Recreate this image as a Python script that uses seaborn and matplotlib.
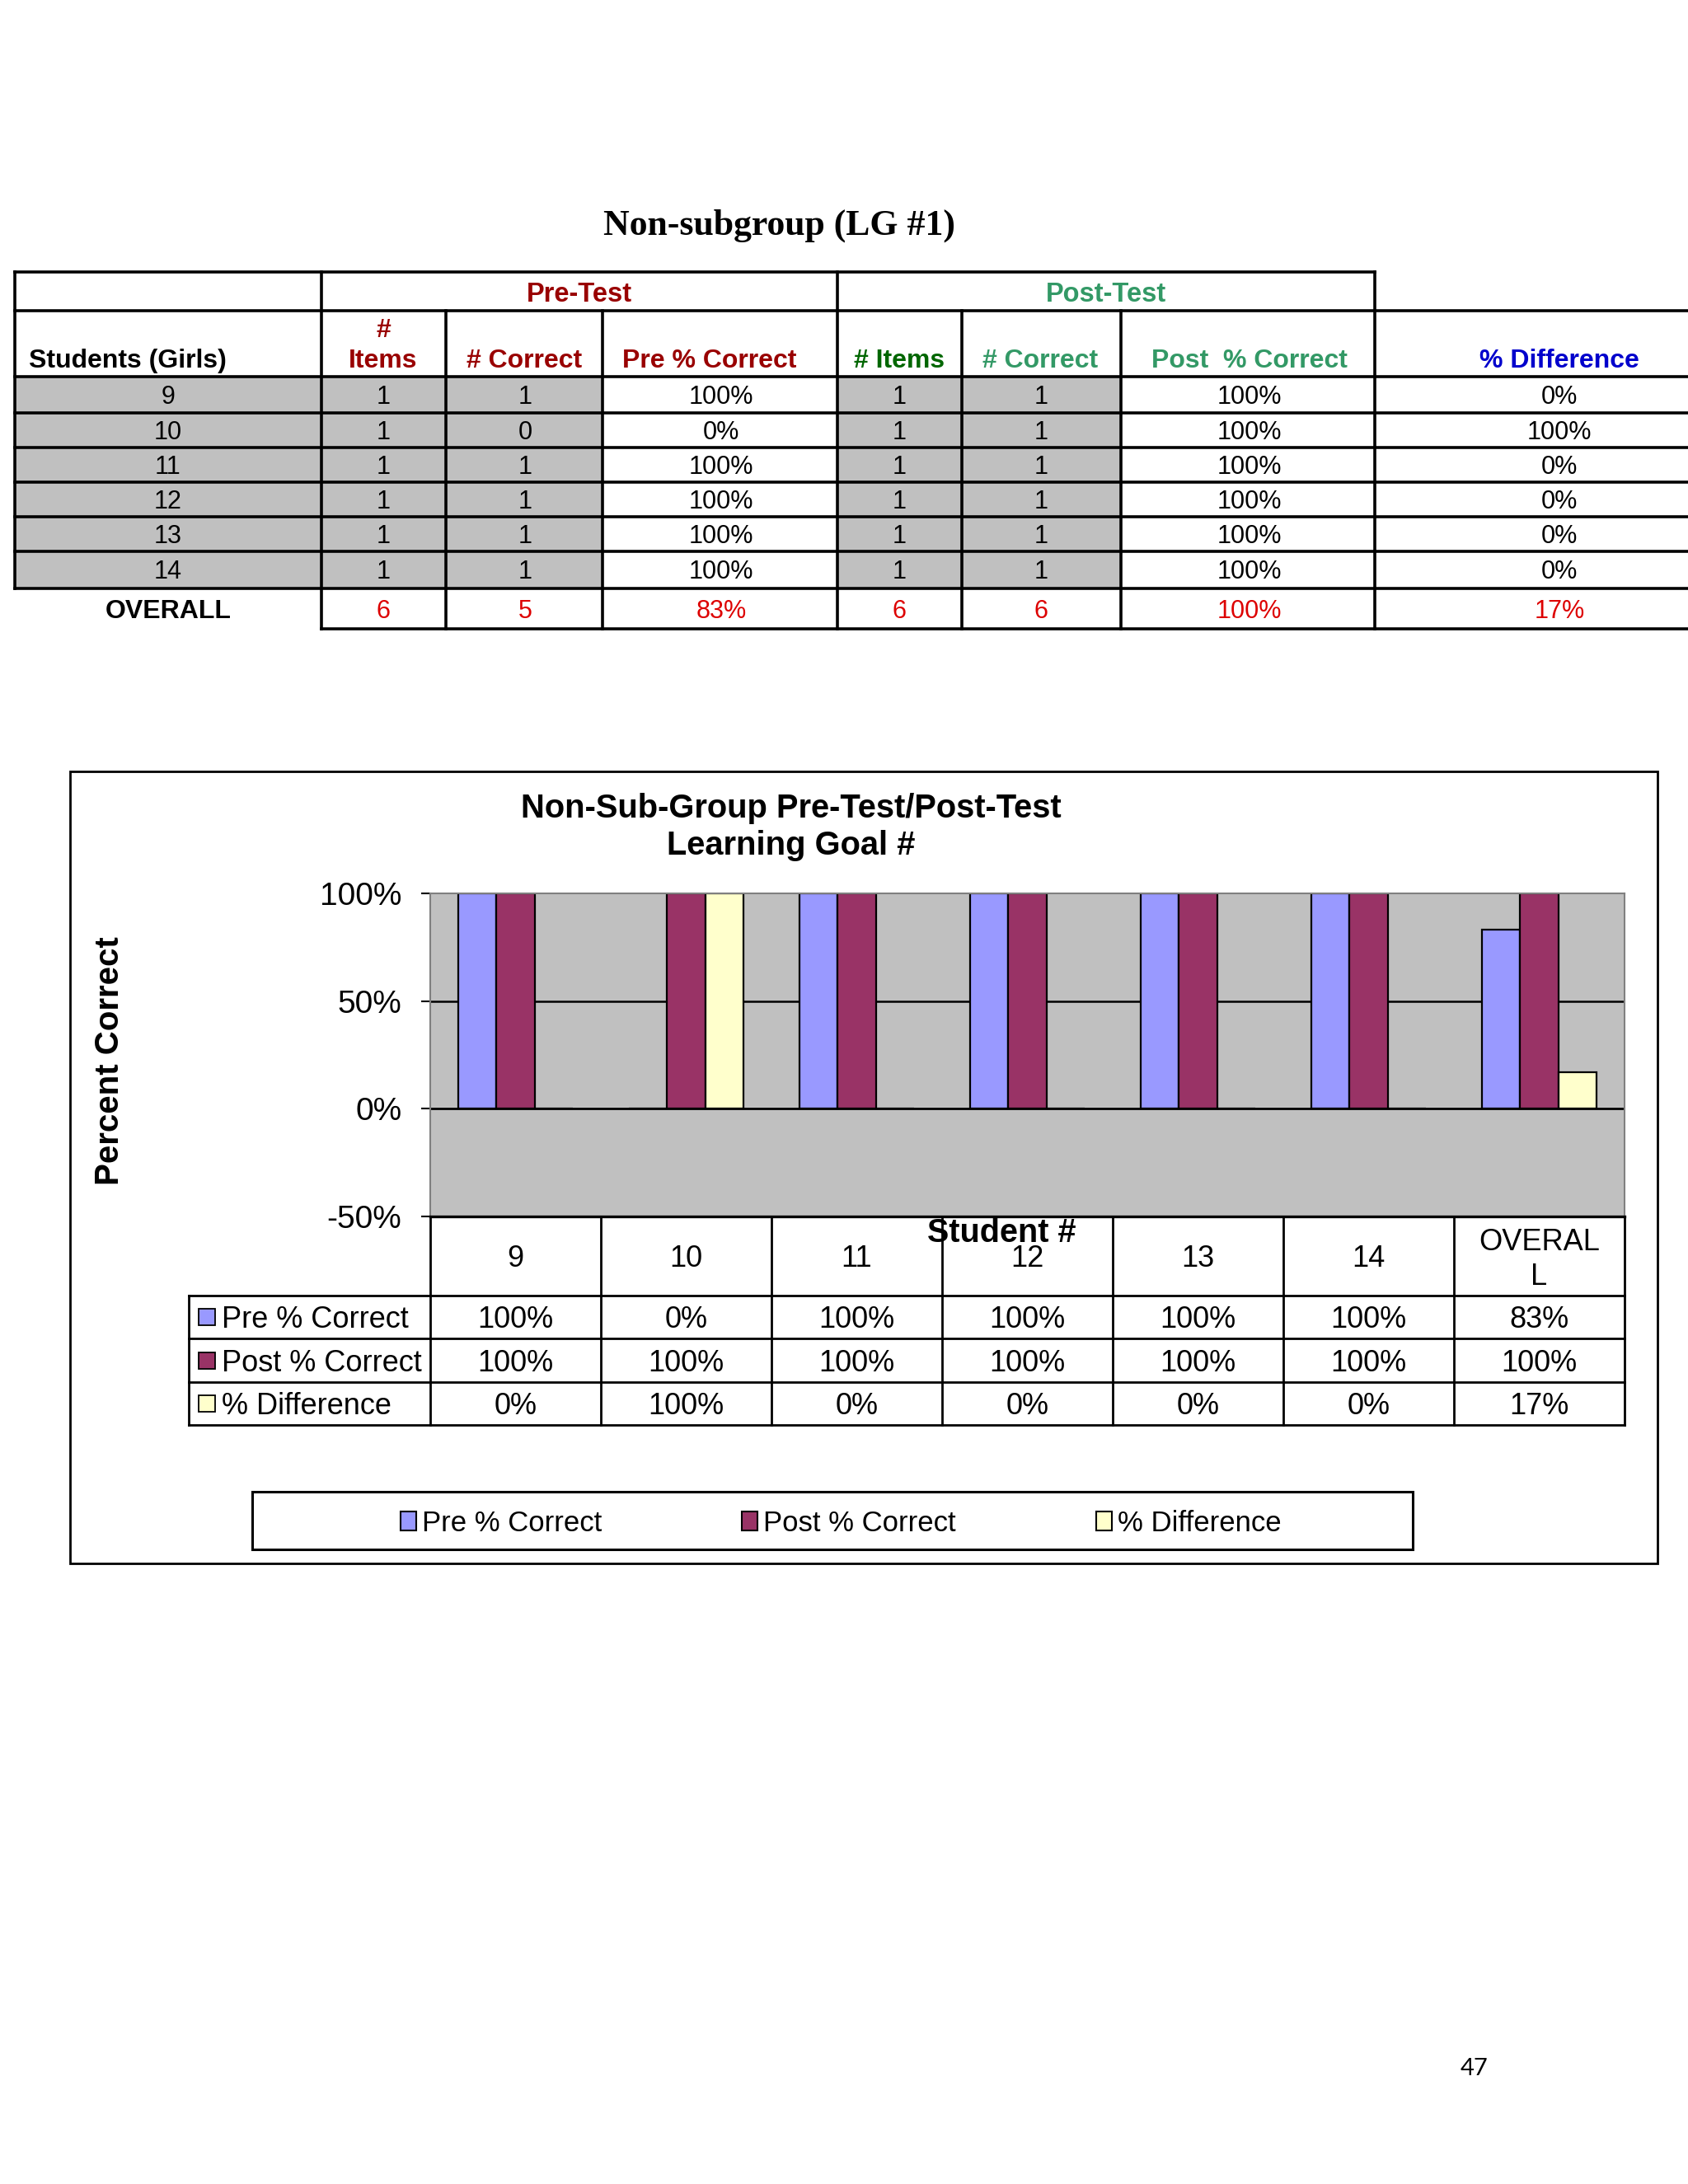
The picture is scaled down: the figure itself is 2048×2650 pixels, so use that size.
import matplotlib
matplotlib.use("Agg")
import matplotlib.pyplot as plt
from matplotlib.patches import Rectangle, Patch
from matplotlib.ticker import FuncFormatter
import seaborn as sns
import pandas as pd

# ---------------- data ----------------
page_title = "Non-subgroup (LG #1)"
chart_title_1 = "Non-Sub-Group Pre-Test/Post-Test"
chart_title_2 = "Learning Goal #"
x_title = "Student #"
y_title = "Percent Correct"
page_number = "47"

# top table
students = ["9", "10", "11", "12", "13", "14"]
pre_items = [1, 1, 1, 1, 1, 1]
pre_correct = [1, 0, 1, 1, 1, 1]
pre_pct = [100, 0, 100, 100, 100, 100]
post_items = [1, 1, 1, 1, 1, 1]
post_correct = [1, 1, 1, 1, 1, 1]
post_pct = [100, 100, 100, 100, 100, 100]
diff_pct = [0, 100, 0, 0, 0, 0]
overall_label = "OVERALL"
overall_values = [6, 5, 83, 6, 6, 100, 17]   # pre items, pre correct, pre %, post items, post correct, post %, diff %

# chart
categories = ["9", "10", "11", "12", "13", "14", "OVERALL"]
pre_series = [100, 0, 100, 100, 100, 100, 83]
post_series = [100, 100, 100, 100, 100, 100, 100]
diff_series = [0, 100, 0, 0, 0, 0, 17]
series_names = ["Pre % Correct", "Post % Correct", "% Difference"]
series_colors = ["#9999FF", "#993366", "#FFFFCC"]
y_ticks = [-50, 0, 50, 100]

# ---------------- style ----------------
GRAY = "#C0C0C0"
RED_DK = "#990000"
GREEN = "#339966"
GREEN_DK = "#006600"
BLUE = "#0000CC"
RED = "#DD0000"
W, H = 2048, 2650

sns.set_theme(style="white")
plt.rcParams["font.family"] = ["Liberation Sans", "DejaVu Sans"]

fig = plt.figure(figsize=(W / 100, H / 100), dpi=100, facecolor="white")
ov = fig.add_axes([0, 0, 1, 1], zorder=0)
ov.set_xlim(0, W)
ov.set_ylim(H, 0)
ov.axis("off")
ov.patch.set_visible(False)


def hl(y, x0, x1, lw=2.6, color="black", z=3):
    ov.plot([x0, x1], [y, y], color=color, lw=lw, solid_capstyle="projecting", zorder=z)


def vl(x, y0, y1, lw=2.6, color="black", z=3):
    ov.plot([x, x], [y0, y1], color=color, lw=lw, solid_capstyle="projecting", zorder=z)


def tx(x, y, s, size, color="black", weight="normal", ha="center", va="baseline", family=None):
    kws = dict(fontsize=size, color=color, fontweight=weight, ha=ha, va=va, zorder=5)
    if family is not None:
        kws["family"] = family
    ov.text(x, y, s, **kws)


# ---------------- page title ----------------
tx(945, 285, page_title, 31.5, weight="bold", family=["Liberation Serif", "DejaVu Serif"])

# ---------------- top table ----------------
tcols = [18, 390, 541, 731, 1016, 1167, 1360, 1668, 2048]
trows = [330, 377, 457, 501, 543, 585, 627, 669, 714, 763]
gray_cols = [0, 1, 2, 4, 5]
for r in range(len(students)):
    for c in gray_cols:
        ov.add_patch(Rectangle((tcols[c], trows[2 + r]), tcols[c + 1] - tcols[c],
                               trows[3 + r] - trows[2 + r], facecolor=GRAY,
                               edgecolor="none", zorder=1))

hl(trows[0], tcols[0], tcols[7])
hl(trows[1], tcols[0], W)
for y in trows[2:9]:
    hl(y, tcols[0], W)
hl(trows[9], tcols[1], W)
vl(tcols[0], trows[0], trows[8])
vl(tcols[1], trows[0], trows[9])
for x in [tcols[2], tcols[3], tcols[5], tcols[6]]:
    vl(x, trows[1], trows[9])
vl(tcols[4], trows[0], trows[9])
vl(tcols[7], trows[0], trows[9])

HS = 23
tx(703, 366, "Pre-Test", 23.5, RED_DK, "bold")
tx(1342, 366, "Post-Test", 23.5, GREEN, "bold")
tx(35, 446, "Students (Girls)", HS, "black", "bold", ha="left")
tx(465, 409, "#", HS, RED_DK, "bold")
tx(465, 446, "Items", HS, RED_DK, "bold")
tx(636, 446, "# Correct", HS, RED_DK, "bold")
tx(861, 446, "Pre % Correct", HS, RED_DK, "bold")
tx(1091, 446, "# Items", HS, GREEN_DK, "bold")
tx(1262, 446, "# Correct", HS, GREEN, "bold")
tx(1516, 446, "Post  % Correct", HS, GREEN, "bold")
tx(1892, 446, "% Difference", HS, BLUE, "bold")

col_x = [204, 465, 637, 875, 1091, 1263, 1516, 1892]
DS = 22
for r in range(len(students)):
    yb = (trows[2 + r] + trows[3 + r]) / 2 + 11
    vals = [students[r], str(pre_items[r]), str(pre_correct[r]), f"{pre_pct[r]}%",
            str(post_items[r]), str(post_correct[r]), f"{post_pct[r]}%", f"{diff_pct[r]}%"]
    for x, v in zip(col_x, vals):
        tx(x, yb, v, DS)

yb = (trows[8] + trows[9]) / 2 + 11
tx(col_x[0], yb, overall_label, 23, "black", "bold")
ov_fmt = [str(overall_values[0]), str(overall_values[1]), f"{overall_values[2]}%",
          str(overall_values[3]), str(overall_values[4]), f"{overall_values[5]}%",
          f"{overall_values[6]}%"]
for x, v in zip(col_x[1:], ov_fmt):
    tx(x, yb, v, DS, RED)

# ---------------- chart box ----------------
ov.add_patch(Rectangle((85, 936), 2011 - 85, 1897 - 936, fill=False,
                       edgecolor="black", lw=2.0, zorder=2))
tx(960, 992, chart_title_1, 28.7, "black", "bold")
tx(960, 1037, chart_title_2, 28.7, "black", "bold")

# ---------------- bar chart ----------------
ax = fig.add_axes([522 / W, 1 - 1476 / H, (1971 - 522) / W, (1476 - 1084) / H], zorder=1)
ax.set_facecolor(GRAY)
df = pd.DataFrame({
    "Student #": categories * 3,
    "Percent": pre_series + post_series + diff_series,
    "Series": [s for s in series_names for _ in categories],
})
sns.barplot(data=df, x="Student #", y="Percent", hue="Series", order=categories,
            hue_order=series_names, palette=series_colors, width=0.667, gap=0,
            saturation=1, edgecolor="black", linewidth=1.6, errorbar=None,
            legend=False, ax=ax)
ax.set_xlim(-0.5, len(categories) - 0.5)
ax.set_ylim(-50, 100)
ax.set_yticks(y_ticks)
ax.yaxis.set_major_formatter(FuncFormatter(lambda v, p: f"{v:.0f}%"))
ax.set_xticks([])
ax.set_xlabel("")
ax.tick_params(axis="y", labelsize=28, length=8, width=1.5, color="black",
               pad=17, left=True, direction="out", labelcolor="black")
ax.axhline(50, color="black", lw=1.8, zorder=0.5)
ax.axhline(0, color="black", lw=2.0, zorder=0.5)
for s in ["top", "left", "right"]:
    ax.spines[s].set_color("#808080")
    ax.spines[s].set_linewidth(1.5)
    ax.spines[s].set_visible(True)
ax.spines["bottom"].set_color("black")
ax.spines["bottom"].set_linewidth(2.4)
ax.spines["bottom"].set_visible(True)
ax.set_ylabel(y_title, fontsize=29, fontweight="bold", color="black")
ax.yaxis.set_label_coords((151.5 - 522) / (1971 - 522), (1476 - 1287) / (1476 - 1084))

handles = [Patch(facecolor=c, edgecolor="black", linewidth=1.5, label=n)
           for n, c in zip(series_names, series_colors)]
ax.legend(handles=handles, loc="center", bbox_to_anchor=(1020 / W, 1 - 1848 / H),
          bbox_transform=fig.transFigure, ncol=3, frameon=False, fontsize=25,
          handlelength=0.55, handleheight=0.65, handletextpad=0.2,
          columnspacing=4.9, borderpad=0, labelcolor="black")
ov.add_patch(Rectangle((306, 1810), 1714 - 306, 1880 - 1810, fill=False,
                       edgecolor="black", lw=2.2, zorder=2))

# ---------------- chart data table ----------------
bounds = [ax.transData.transform((i - 0.5, 0))[0] for i in range(len(categories) + 1)]
centers = [(bounds[i] + bounds[i + 1]) / 2 for i in range(len(categories))]
crow = [1476, 1572, 1624, 1677, 1729]
TL = 2.0
for y in crow[1:]:
    hl(y, 229, bounds[-1], lw=TL)
vl(229, crow[1], crow[-1], lw=TL)
for x in bounds:
    vl(x, crow[0], crow[-1], lw=TL)

CS = 26
for i, cat in enumerate(categories):
    if len(cat) > 6:
        tx(centers[i], 1517, cat[:6], CS)
        tx(centers[i], 1559, cat[6:], CS)
    else:
        tx(centers[i], 1537, cat, CS)

series_vals = [pre_series, post_series, diff_series]
for k, (name, color, vals) in enumerate(zip(series_names, series_colors, series_vals)):
    yc = (crow[1 + k] + crow[2 + k]) / 2
    ov.add_patch(Rectangle((241, yc - 10), 20, 20, facecolor=color, edgecolor="black",
                           lw=1.3, zorder=4))
    tx(269, yc + 13, name, CS, ha="left")
    for i, v in enumerate(vals):
        tx(centers[i], yc + 13, f"{v}%", CS)

tx(1215, 1507, x_title, 28.5, "black", "bold")

# ---------------- page number ----------------
tx(1789, 2518, page_number, 21, family=["Lato", "DejaVu Sans"])

fig.savefig("out.png", dpi=100, facecolor="white")
